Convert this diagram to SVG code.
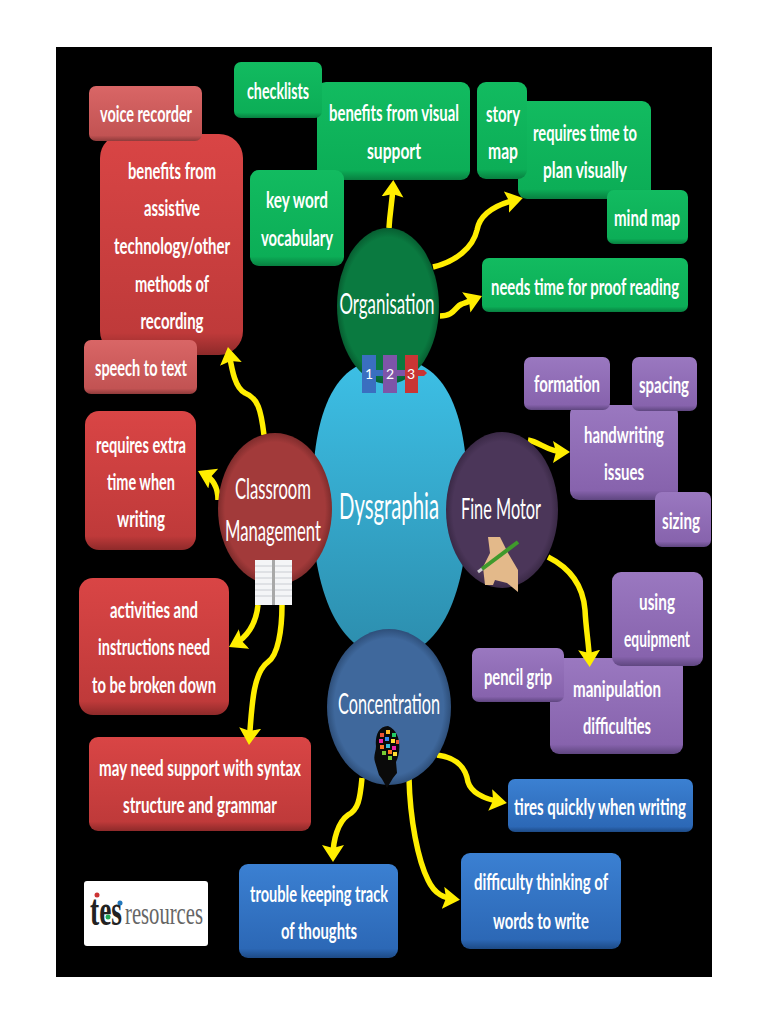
<svg xmlns="http://www.w3.org/2000/svg" width="768" height="1024" viewBox="0 0 768 1024">
<style>
text{font-family:"Lato","Liberation Sans",sans-serif;fill:#fff;text-anchor:middle;font-weight:700;font-size:22px}
.c{font-weight:400;font-size:28px}
.big{font-weight:400;font-size:36px}
.n{font-size:14px;font-weight:400}
.con path{fill:none;stroke:#ffee00;stroke-width:5.500;marker-end:url(#arr)}
.g{fill:url(#gg)}.r{fill:url(#gr)}.rl{fill:url(#grl)}.p{fill:url(#gp)}.b{fill:url(#gb)}
</style>
<defs>
<marker id="arr" markerUnits="userSpaceOnUse" markerWidth="22" markerHeight="24" refX="11" refY="11" orient="auto"><path d="M0,0L17,11L0,22L3,11Z" fill="#ffee00"/></marker>
<linearGradient id="gg" x1="0" y1="0" x2="0" y2="1"><stop offset="0" stop-color="#12bb60"/><stop offset=".9" stop-color="#0cae57"/><stop offset="1" stop-color="#087f40"/></linearGradient>
<linearGradient id="gr" x1="0" y1="0" x2="0" y2="1"><stop offset="0" stop-color="#d94545"/><stop offset=".9" stop-color="#bf3a3a"/><stop offset="1" stop-color="#8e2a2a"/></linearGradient>
<linearGradient id="grl" x1="0" y1="0" x2="0" y2="1"><stop offset="0" stop-color="#d96666"/><stop offset=".9" stop-color="#c25353"/><stop offset="1" stop-color="#8f3b3b"/></linearGradient>
<linearGradient id="gp" x1="0" y1="0" x2="0" y2="1"><stop offset="0" stop-color="#9a78c0"/><stop offset=".9" stop-color="#8763ad"/><stop offset="1" stop-color="#5f4680"/></linearGradient>
<linearGradient id="gb" x1="0" y1="0" x2="0" y2="1"><stop offset="0" stop-color="#3b80d2"/><stop offset=".9" stop-color="#2c68b6"/><stop offset="1" stop-color="#1d4a85"/></linearGradient>
<linearGradient id="gd" x1="0" y1="0" x2="0" y2="1"><stop offset="0" stop-color="#3dc0e6"/><stop offset="1" stop-color="#2c8dad"/></linearGradient>
<radialGradient id="go"><stop offset=".88" stop-color="#0a7a40"/><stop offset="1" stop-color="#075e31"/></radialGradient>
<radialGradient id="gm"><stop offset=".88" stop-color="#a23a3a"/><stop offset="1" stop-color="#7f2c2c"/></radialGradient>
<radialGradient id="gf"><stop offset=".88" stop-color="#4b3659"/><stop offset="1" stop-color="#3a2946"/></radialGradient>
<radialGradient id="gc"><stop offset=".88" stop-color="#3f689c"/><stop offset="1" stop-color="#2e4f7a"/></radialGradient>
</defs>
<rect width="768" height="1024" fill="#fff"/>
<rect x="56" y="47" width="656" height="930" fill="#000"/>

<g id="dysgraphia"><path d="M390,358C455,358 468,430 468,507C468,575 448,656 390,656C332,656 312,575 312,507C312,430 325,358 390,358Z" fill="url(#gd)"/><text class="big" x="389" y="519" textLength="100" lengthAdjust="spacingAndGlyphs">Dysgraphia</text></g>

<g id="assistive"><rect x="100" y="134" width="143" height="221" rx="24" class="r"/><text x="172" y="179" textLength="88" lengthAdjust="spacingAndGlyphs">benefits from</text><text x="172" y="216" textLength="56" lengthAdjust="spacingAndGlyphs">assistive</text><text x="172" y="254" textLength="116" lengthAdjust="spacingAndGlyphs">technology/other</text><text x="172" y="292" textLength="74" lengthAdjust="spacingAndGlyphs">methods of</text><text x="172" y="329" textLength="63" lengthAdjust="spacingAndGlyphs">recording</text></g>
<g id="voice"><rect x="89" y="86" width="113" height="55" rx="7" class="rl"/><text x="146" y="122" textLength="92" lengthAdjust="spacingAndGlyphs">voice recorder</text></g>
<g id="speech"><rect x="84" y="340" width="113" height="54" rx="7" class="rl"/><text x="141" y="376" textLength="92" lengthAdjust="spacingAndGlyphs">speech to text</text></g>
<g id="extratime"><rect x="85" y="411" width="111" height="139" rx="14" class="r"/><text x="141" y="453" textLength="90" lengthAdjust="spacingAndGlyphs">requires extra</text><text x="141" y="490" textLength="68" lengthAdjust="spacingAndGlyphs">time when</text><text x="141" y="527" textLength="48" lengthAdjust="spacingAndGlyphs">writing</text></g>
<g id="activities"><rect x="79" y="578" width="150" height="137" rx="14" class="r"/><text x="154" y="618" textLength="88" lengthAdjust="spacingAndGlyphs">activities and</text><text x="154" y="655" textLength="112" lengthAdjust="spacingAndGlyphs">instructions need</text><text x="154" y="693" textLength="124" lengthAdjust="spacingAndGlyphs">to be broken down</text></g>
<g id="syntax"><rect x="89" y="737" width="222" height="94" rx="9" class="r"/><text x="200" y="776" textLength="202" lengthAdjust="spacingAndGlyphs">may need support with syntax</text><text x="200" y="813" textLength="154" lengthAdjust="spacingAndGlyphs">structure and grammar</text></g>
<g id="trouble"><rect x="239" y="864" width="159" height="94" rx="9" class="b"/><text x="319" y="902" textLength="138" lengthAdjust="spacingAndGlyphs">trouble keeping track</text><text x="319" y="939" textLength="76" lengthAdjust="spacingAndGlyphs">of thoughts</text></g>
<g id="difficulty"><rect x="461" y="853" width="160" height="96" rx="9" class="b"/><text x="541" y="890" textLength="134" lengthAdjust="spacingAndGlyphs">difficulty thinking of</text><text x="541" y="929" textLength="96" lengthAdjust="spacingAndGlyphs">words to write</text></g>
<g id="tires"><rect x="508" y="779" width="185" height="53" rx="7" class="b"/><text x="600" y="815" textLength="172" lengthAdjust="spacingAndGlyphs">tires quickly when writing</text></g>
<g id="manipulation"><rect x="550" y="658" width="133" height="96" rx="9" class="p"/><text x="617" y="697" textLength="88" lengthAdjust="spacingAndGlyphs">manipulation</text><text x="617" y="734" textLength="68" lengthAdjust="spacingAndGlyphs">difficulties</text></g>
<g id="pencilgrip"><rect x="472" y="648" width="92" height="54" rx="7" class="p"/><text x="518" y="685" textLength="68" lengthAdjust="spacingAndGlyphs">pencil grip</text></g>
<g id="equipment"><rect x="612" y="572" width="91" height="94" rx="9" class="p"/><text x="657" y="610" textLength="36" lengthAdjust="spacingAndGlyphs">using</text><text x="657" y="647" textLength="66" lengthAdjust="spacingAndGlyphs">equipment</text></g>
<g id="handwriting"><rect x="570" y="405" width="108" height="95" rx="9" class="p"/><text x="624" y="443" textLength="80" lengthAdjust="spacingAndGlyphs">handwriting</text><text x="624" y="480" textLength="40" lengthAdjust="spacingAndGlyphs">issues</text></g>
<g id="formation"><rect x="524" y="357" width="86" height="53" rx="7" class="p"/><text x="567" y="392" textLength="66" lengthAdjust="spacingAndGlyphs">formation</text></g>
<g id="spacing"><rect x="632" y="357" width="65" height="54" rx="7" class="p"/><text x="664" y="393" textLength="50" lengthAdjust="spacingAndGlyphs">spacing</text></g>
<g id="sizing"><rect x="655" y="492" width="56" height="55" rx="7" class="p"/><text x="681" y="529" textLength="38" lengthAdjust="spacingAndGlyphs">sizing</text></g>
<g id="proof"><rect x="482" y="258" width="206" height="54" rx="7" class="g"/><text x="585" y="295" textLength="188" lengthAdjust="spacingAndGlyphs">needs time for proof reading</text></g>
<g id="plantime"><rect x="518" y="101" width="133" height="98" rx="9" class="g"/><text x="585" y="141" textLength="104" lengthAdjust="spacingAndGlyphs">requires time to</text><text x="585" y="178" textLength="84" lengthAdjust="spacingAndGlyphs">plan visually</text></g>
<g id="mindmap"><rect x="607" y="190" width="81" height="54" rx="7" class="g"/><text x="647" y="226" textLength="66" lengthAdjust="spacingAndGlyphs">mind map</text></g>
<g id="storymap"><rect x="477" y="82" width="50" height="97" rx="9" class="g"/><text x="503" y="122" textLength="34" lengthAdjust="spacingAndGlyphs">story</text><text x="503" y="159" textLength="30" lengthAdjust="spacingAndGlyphs">map</text></g>
<g id="visual"><rect x="317" y="82" width="153" height="98" rx="9" class="g"/><text x="394" y="121" textLength="130" lengthAdjust="spacingAndGlyphs">benefits from visual</text><text x="394" y="159" textLength="54" lengthAdjust="spacingAndGlyphs">support</text></g>
<g id="checklists"><rect x="234" y="62" width="88" height="56" rx="7" class="g"/><text x="278" y="99" textLength="62" lengthAdjust="spacingAndGlyphs">checklists</text></g>
<g id="keyword"><rect x="250" y="170" width="94" height="96" rx="9" class="g"/><text x="297" y="208" textLength="62" lengthAdjust="spacingAndGlyphs">key word</text><text x="297" y="246" textLength="72" lengthAdjust="spacingAndGlyphs">vocabulary</text></g>

<g id="connectors" class="con">
<path d="M389,228C390,210 392,205 393,186"/>
<path d="M433,267C455,262 473,248 477,230C480,212 498,204 517,199.400"/>
<path d="M440,316C455,316 455,306 462,304C468,302 472,300 476.400,298.200"/>
<path d="M528,440C540,442 548,452 564,452"/>
<path d="M548,557C570,568 583,585 585,610C586,630 589,645 589.500,661"/>
<path d="M437,755C460,758 466,770 468,782C472,795 490,800 501,802"/>
<path d="M409,778C410,820 418,860 428,880C435,895 445,898 454,899"/>
<path d="M362,778C360,800 358,810 348,815C338,822 333,840 333,856"/>
<path d="M282,605C282,630 278,655 268,662C254,672 252,700 249.400,739"/>
<path d="M258,605C256,625 246,638 234.300,644.200"/>
<path d="M218,500C218,485 212,478 203.400,473.700"/>
<path d="M264,435C261,410 258,398 245,393C235,388 232,370 229,353"/>
</g>

<g id="organisation"><ellipse cx="388" cy="306" rx="51" ry="78" fill="url(#go)"/><text class="c" x="387" y="314" textLength="95" lengthAdjust="spacingAndGlyphs">Organisation</text>
<g id="puzzle"><rect x="362" y="355" width="14" height="38" fill="#3a6fc0"/><rect x="383" y="355" width="14" height="38" fill="#7e55a8"/><rect x="405" y="355" width="13" height="38" fill="#c93535"/><rect x="376" y="370" width="7" height="6" fill="#3a6fc0"/><rect x="397" y="370" width="8" height="6" fill="#7e55a8"/><path d="M418,370h6l3,3l-3,3h-6z" fill="#c93535"/>
<text class="n" x="369" y="379">1</text><text class="n" x="390" y="379">2</text><text class="n" x="411" y="379">3</text></g></g>

<g id="classroom"><ellipse cx="275" cy="509" rx="57" ry="76" fill="url(#gm)"/><text class="c" x="273" y="499" textLength="76" lengthAdjust="spacingAndGlyphs">Classroom</text><text class="c" x="273" y="541" textLength="96" lengthAdjust="spacingAndGlyphs">Management</text>
<g id="book"><rect x="255" y="560" width="37" height="45" fill="#f4f5f7"/><path d="M255,566h37M255,572h37M255,578h37M255,584h37M255,590h37M255,596h37" stroke="#c9ccd2" stroke-width="1"/><rect x="272" y="560" width="3" height="45" fill="#a8a8a8"/></g></g>

<g id="finemotor"><ellipse cx="502" cy="510" rx="56" ry="78" fill="url(#gf)"/><text class="c" x="501" y="519" textLength="80" lengthAdjust="spacingAndGlyphs">Fine Motor</text>
<g id="hand"><path d="M488,537L500,537L508,553L518,570L518,592L507,583L495,580L493,585L485,585L483,567L490,553Z" fill="#e3b98a"/><path d="M482,569L518,542" stroke="#3f9a2c" stroke-width="4"/><path d="M478,572L482,569" stroke="#ccc" stroke-width="3"/></g></g>

<g id="concentration"><ellipse cx="389" cy="707" rx="62" ry="78" fill="url(#gc)"/><text class="c" x="389" y="714" textLength="102" lengthAdjust="spacingAndGlyphs">Concentration</text>
<g id="brain"><path d="M388,726C378,726 375,737 376,746C376,752 373,756 375,762L379,775L382,779L387,788L393,778L397,773L396,762C401,752 402,732 388,726Z" fill="#0a0a0a"/>
<g id="dots"><rect x="380" y="733" width="4" height="4" fill="#e53"/><rect x="386" y="730" width="4" height="4" fill="#fb2"/><rect x="392" y="733" width="4" height="4" fill="#2c6"/><rect x="379" y="739" width="4" height="4" fill="#e2a"/><rect x="385" y="737" width="4" height="4" fill="#38e"/><rect x="391" y="739" width="4" height="4" fill="#fd3"/><rect x="396" y="740" width="3" height="4" fill="#e53"/><rect x="380" y="745" width="4" height="4" fill="#f72"/><rect x="386" y="744" width="4" height="4" fill="#3bd"/><rect x="392" y="746" width="4" height="4" fill="#e2a"/><rect x="382" y="751" width="4" height="4" fill="#7c3"/><rect x="388" y="750" width="4" height="4" fill="#f72"/><rect x="393" y="752" width="4" height="4" fill="#fd3"/><rect x="388" y="756" width="4" height="4" fill="#7c3"/></g></g></g>

<g id="logo"><rect x="84" y="881" width="124" height="65" rx="3" fill="#fff"/>
<text x="106" y="925" textLength="32" lengthAdjust="spacingAndGlyphs" style="font-family:'Liberation Serif',serif;font-size:44px;fill:#222;font-weight:700">tes</text>
<text x="164" y="924" textLength="78" lengthAdjust="spacingAndGlyphs" style="font-family:'Liberation Serif',serif;font-size:32px;fill:#666;font-weight:400">resources</text>
<circle cx="97" cy="895" r="2.500" fill="#c33"/><circle cx="120" cy="903" r="2.500" fill="#27b"/><circle cx="108" cy="917" r="2.500" fill="#2a5"/></g>
</svg>
